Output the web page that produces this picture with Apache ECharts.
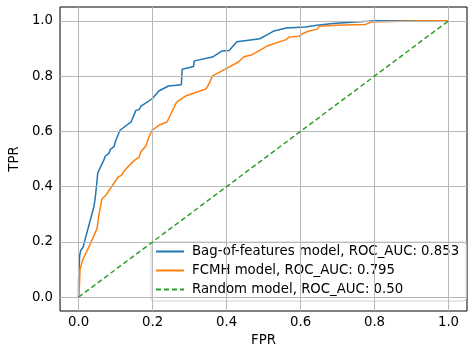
<!DOCTYPE html>
<html>
<head>
<meta charset="utf-8">
<script src="https://cdn.jsdelivr.net/npm/echarts@6/dist/echarts.min.js"></script>
<style>
  html, body { margin: 0; padding: 0; background: #fff; }
  #chart { width: 474px; height: 353px; }
</style>
</head>
<body>
<div id="chart"></div>
<script>
// [FPR, TPR] points
var bagOfFeatures = [
  [0, 0], [0, 0.06], [0.003, 0.15], [0.006, 0.17], [0.012, 0.18], [0.02, 0.22],
  [0.042, 0.33], [0.046, 0.37], [0.052, 0.45], [0.068, 0.495], [0.072, 0.51],
  [0.082, 0.52], [0.086, 0.535], [0.096, 0.545], [0.1, 0.565], [0.112, 0.604],
  [0.142, 0.634], [0.155, 0.676], [0.164, 0.679], [0.168, 0.69], [0.199, 0.718],
  [0.217, 0.746], [0.243, 0.764], [0.278, 0.769], [0.28, 0.825], [0.311, 0.835],
  [0.313, 0.855], [0.362, 0.869], [0.388, 0.891], [0.407, 0.893], [0.428, 0.924],
  [0.49, 0.935], [0.508, 0.948], [0.526, 0.962], [0.561, 0.974], [0.613, 0.978],
  [0.644, 0.984], [0.688, 0.99], [0.749, 0.996], [0.784, 0.998], [0.8, 1.0], [1, 1]
]
var fcmh = [
  [0, 0], [0.002, 0.03], [0.004, 0.1], [0.011, 0.134], [0.028, 0.182], [0.05, 0.248],
  [0.054, 0.29], [0.063, 0.355], [0.074, 0.369], [0.107, 0.435], [0.116, 0.441],
  [0.122, 0.455], [0.133, 0.471], [0.151, 0.495], [0.164, 0.507], [0.168, 0.525],
  [0.182, 0.547], [0.19, 0.58], [0.199, 0.604], [0.217, 0.622], [0.239, 0.634],
  [0.265, 0.706], [0.291, 0.729], [0.344, 0.753], [0.354, 0.775], [0.362, 0.801],
  [0.383, 0.815], [0.432, 0.851], [0.447, 0.87], [0.467, 0.876], [0.512, 0.91],
  [0.561, 0.932], [0.569, 0.941], [0.596, 0.944], [0.605, 0.953], [0.622, 0.963],
  [0.644, 0.969], [0.651, 0.98], [0.697, 0.984], [0.776, 0.987], [0.78, 0.993],
  [0.793, 0.996], [0.872, 0.998], [0.96, 1.0], [1, 1]
]
var randomModel = [[0, 0], [1, 1]]
var ticks = [0, 0.2, 0.4, 0.6, 0.8, 1.0]
var names = [
  'Bag-of-features model, ROC_AUC: 0.853',
  'FCMH model, ROC_AUC: 0.795',
  'Random model, ROC_AUC: 0.50'
]

var font = 'DejaVu Sans'
var fs = 13.3
var chart = echarts.init(document.getElementById('chart'))

// gridlines at the tick values (axis range is padded, so drawn as markLines)
var gridLines = ticks.map(function (v) { return { xAxis: v } })
  .concat(ticks.map(function (v) { return { yAxis: v } }))

var option = {
  animation: false,
  textStyle: { fontFamily: font },
  grid: {
    left: 50, right: 7, top: 7, bottom: 42,
    show: true, borderColor: '#000', borderWidth: 1
  },
  legend: {
    orient: 'vertical',
    left: 151,
    top: 242,
    padding: [3, 7, 5, 4],
    itemWidth: 28,
    itemHeight: 14,
    itemGap: 6,
    backgroundColor: 'rgba(255,255,255,0.8)',
    borderColor: '#d0d0d0',
    borderWidth: 1,
    borderRadius: 3,
    itemStyle: { opacity: 0 },
    textStyle: { fontFamily: font, fontSize: fs, color: '#000', padding: [0, 0, 0, 3] },
    data: names
  },
  xAxis: {
    type: 'value',
    min: -0.05,
    max: 1.05,
    name: 'FPR',
    nameLocation: 'middle',
    nameGap: 21,
    nameTextStyle: { fontFamily: font, fontSize: fs, color: '#000' },
    axisLine: { show: false },
    axisTick: { show: true, length: 4, lineStyle: { color: '#000' }, customValues: ticks },
    axisLabel: {
      margin: 5, fontSize: fs, color: '#000', fontFamily: font,
      customValues: ticks,
      formatter: function (v) { return v.toFixed(1) }
    },
    splitLine: { show: false }
  },
  yAxis: {
    type: 'value',
    min: -0.05,
    max: 1.05,
    name: 'TPR',
    nameLocation: 'middle',
    nameGap: 34,
    nameTextStyle: { fontFamily: font, fontSize: fs, color: '#000' },
    axisLine: { show: false },
    axisTick: { show: true, length: 4, lineStyle: { color: '#000' }, customValues: ticks },
    axisLabel: {
      margin: 7, fontSize: fs, color: '#000', fontFamily: font,
      customValues: ticks,
      formatter: function (v) { return v.toFixed(1) }
    },
    splitLine: { show: false }
  },
  series: [
    {
      name: 'gridlines',
      type: 'line',
      data: [],
      z: 1,
      silent: true,
      markLine: {
        silent: true,
        symbol: ['none', 'none'],
        label: { show: false },
        lineStyle: { color: '#b8b8b8', width: 1, type: 'solid' },
        emphasis: { disabled: true },
        data: gridLines
      }
    },
    {
      name: names[0],
      type: 'line',
      data: bagOfFeatures,
      symbol: 'none',
      z: 3,
      color: '#1f77b4',
      lineStyle: { width: 1.5, color: '#1f77b4' }
    },
    {
      name: names[1],
      type: 'line',
      data: fcmh,
      symbol: 'none',
      z: 4,
      color: '#ff7f0e',
      lineStyle: { width: 1.5, color: '#ff7f0e' }
    },
    {
      name: names[2],
      type: 'line',
      data: randomModel,
      symbol: 'none',
      z: 5,
      color: '#2ca02c',
      lineStyle: { width: 1.5, color: '#2ca02c', type: [5, 3] }
    }
  ]
}
chart.setOption(option)
</script>
</body>
</html>
